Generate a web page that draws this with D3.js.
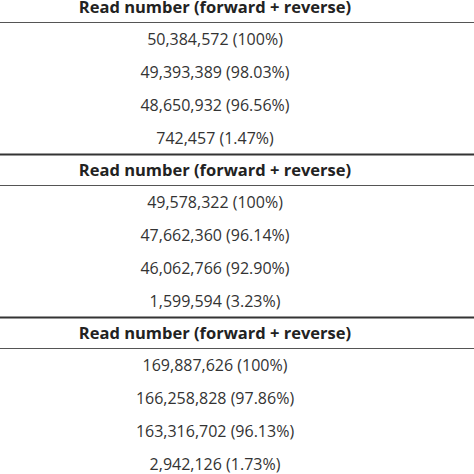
<!DOCTYPE html>
<html lang="en">
<head>
<meta charset="utf-8">
<style>
  body { margin: 0; background: #fff; }
  text { font-family: "Open Sans", sans-serif; fill: #222; }
  .head { font-weight: bold; font-size: 16.5px; }
  .cell { font-size: 16px; fill: #333; }
</style>
</head>
<body>
<script src="https://cdn.jsdelivr.net/npm/d3@7"></script>
<script>
const header = 'Read number (forward + reverse)';
const block1 = ['50,384,572 (100%)', '49,393,389 (98.03%)', '48,650,932 (96.56%)', '742,457 (1.47%)'];
const block2 = ['49,578,322 (100%)', '47,662,360 (96.14%)', '46,062,766 (92.90%)', '1,599,594 (3.23%)'];
const block3 = ['169,887,626 (100%)', '166,258,828 (97.86%)', '163,316,702 (96.13%)', '2,942,126 (1.73%)'];
const blocks = [block1, block2, block3];

const W = 474, H = 474;
const svg = d3.select('body').append('svg').attr('width', W).attr('height', H);

// each block: header line then 4 rows, blocks stacked
const blockY = d3.scaleLinear().domain([0, 1]).range([0, 163]);
const rowY = d3.scaleLinear().domain([0, 1]).range([39, 72]);
const cx = 215;

blocks.forEach((rows, b) => {
  const g = svg.append('g').attr('transform', `translate(0, ${blockY(b)})`);
  g.append('text').attr('class', 'head')
    .attr('x', cx).attr('y', 7).attr('dy', '0.35em')
    .attr('text-anchor', 'middle').text(header);
  g.append('line').attr('x1', 0).attr('x2', W).attr('y1', 22.5).attr('y2', 22.5)
    .attr('stroke', '#555').attr('stroke-width', 1.2);
  g.selectAll('text.cell').data(rows).join('text')
    .attr('class', 'cell')
    .attr('x', cx).attr('y', (d, i) => rowY(i)).attr('dy', '0.35em')
    .attr('text-anchor', 'middle').text(d => d);
  if (b < blocks.length - 1) {
    g.append('line').attr('x1', 0).attr('x2', W).attr('y1', 154.5).attr('y2', 154.5)
      .attr('stroke', '#333').attr('stroke-width', 2);
  }
});
</script>
</body>
</html>
